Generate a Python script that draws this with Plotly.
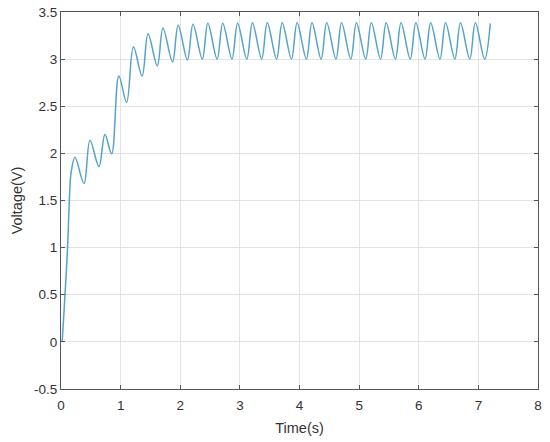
import plotly.graph_objects as go

# turning points of the voltage trace
time_s = [
    0.02, 0.11, 0.14, 0.17, 0.235, 0.385, 0.486, 0.636, 0.737, 0.849,
    0.97, 1.10, 1.215, 1.36, 1.46, 1.615, 1.71, 1.87, 1.965, 2.12,
    2.214, 2.37, 2.463, 2.618, 2.713, 2.867, 2.962, 3.116, 3.211, 3.365,
    3.46, 3.615, 3.71, 3.865, 3.96, 4.115, 4.21, 4.362, 4.457, 4.611,
    4.706, 4.86, 4.955, 5.11, 5.205, 5.359, 5.454, 5.608, 5.703, 5.857,
    5.952, 6.105, 6.20, 6.355, 6.45, 6.605, 6.70, 6.855, 6.95, 7.105,
    7.20,
]
voltage = [
    0.0, 1.0, 1.5, 1.8, 1.96, 1.68, 2.14, 1.86, 2.20, 1.995,
    2.82, 2.54, 3.13, 2.82, 3.27, 2.93, 3.33, 2.97, 3.36, 2.99,
    3.37, 3.0, 3.38, 3.0, 3.38, 3.0, 3.38, 3.0, 3.385, 3.0,
    3.385, 3.0, 3.385, 3.0, 3.385, 3.0, 3.385, 3.0, 3.385, 3.0,
    3.385, 3.0, 3.385, 3.0, 3.385, 3.0, 3.385, 3.0, 3.385, 3.0,
    3.385, 3.0, 3.385, 3.0, 3.385, 3.0, 3.385, 3.0, 3.385, 3.0,
    3.38,
]

x_ticks = [0, 1, 2, 3, 4, 5, 6, 7, 8]
y_ticks = [-0.5, 0, 0.5, 1, 1.5, 2, 2.5, 3, 3.5]

fig = go.Figure()
fig.add_trace(go.Scatter(
    x=time_s, y=voltage, mode="lines",
    line=dict(color="#55a3c8", width=1.5, shape="spline", smoothing=1),
    showlegend=False,
))

axis_style = dict(
    showline=True, linecolor="#555555", linewidth=1, mirror="ticks",
    ticks="inside", ticklen=4, tickcolor="#555555",
    showgrid=True, gridcolor="#e3e3e3", gridwidth=1,
    zeroline=False, automargin=False,
    tickfont=dict(family="Liberation Sans", size=13.5, color="#333333"),
)

fig.update_xaxes(range=[0, 8], tickvals=x_ticks, ticklabelstandoff=4,
                 title=dict(text="Time(s)", standoff=10,
                            font=dict(family="Liberation Sans", size=14.5, color="#333333")),
                 **axis_style)
fig.update_yaxes(range=[-0.5, 3.5], tickvals=y_ticks,
                 ticktext=[str(v) for v in y_ticks],
                 title=dict(text="Voltage(V)", standoff=7,
                            font=dict(family="Liberation Sans", size=14.5, color="#333333")),
                 **axis_style)

fig.update_layout(
    width=550, height=442,
    margin=dict(l=61, r=12, t=12, b=53),
    paper_bgcolor="white", plot_bgcolor="white",
)

# drop the default 8px body margin so the figure sits at the page corner
fig.write_html("out.html", config={"displayModeBar": False},
               post_script="document.body.style.margin = '0';")
